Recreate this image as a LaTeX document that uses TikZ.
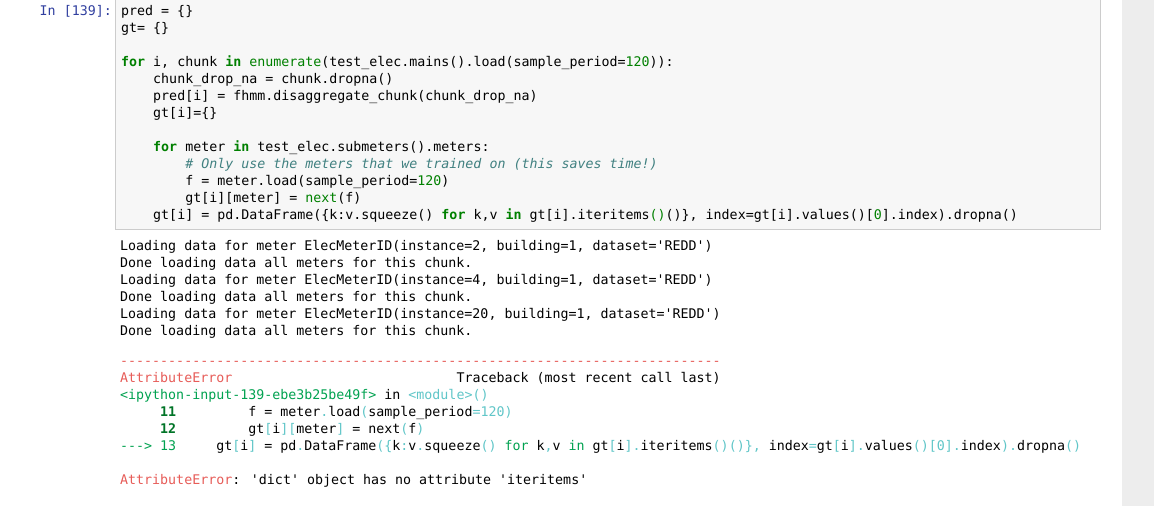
\documentclass[tikz,border=0pt]{standalone}
\usepackage{fontspec}
\newfontfamily\mono{DejaVu Sans Mono}
\definecolor{kwg}{HTML}{008000}
\definecolor{cmt}{HTML}{408080}
\definecolor{ered}{HTML}{E75C58}
\definecolor{tgreen}{HTML}{00A250}
\definecolor{tcyan}{HTML}{60C6C8}
\definecolor{tdark}{HTML}{007427}
\definecolor{prompt}{HTML}{303F9F}
\newcommand{\kw}[1]{\textcolor{kwg}{\bfseries #1}}
\newcommand{\bi}[1]{\textcolor{kwg}{#1}}
\newcommand{\cm}[1]{\textcolor{cmt}{\itshape #1}}
\newcommand{\er}[1]{\textcolor{ered}{#1}}
\newcommand{\tg}[1]{\textcolor{tgreen}{#1}}
\newcommand{\tc}[1]{\textcolor{tcyan}{#1}}
\newcommand{\td}[1]{\textcolor{tdark}{\bfseries #1}}
\begin{document}
\begin{tikzpicture}[x=1pt,y=-1pt,
  ln/.style={anchor=base west,inner sep=0pt,font=\mono\fontsize{13.3}{17}\selectfont,text=black}]
\useasboundingbox (0,0) rectangle (1154,506);
\fill[white] (0,0) rectangle (1154,506);
\fill[black!7] (1122,0) rectangle (1154,506);
\draw[fill=black!3,draw=black!20] (115.5,-2) rectangle (1100.5,229.5);
\node[ln,anchor=base east,text=prompt] (pr) at (112,15) {In [139]:};
\node[ln] (c1) at (121,15) {pred = \{\}};
\node[ln] (c2) at (121,32) {gt= \{\}};
\node[ln] (c3) at (121,66) {\kw{for} i, chunk \kw{in} \bi{enumerate}(test\_elec.mains().load(sample\_period=\bi{120})):};
\node[ln] (c4) at (121,83) {\hphantom{xxxx}chunk\_drop\_na = chunk.dropna()};
\node[ln] (c5) at (121,100) {\hphantom{xxxx}pred[i] = fhmm.disaggregate\_chunk(chunk\_drop\_na)};
\node[ln] (c6) at (121,117) {\hphantom{xxxx}gt[i]=\{\}};
\node[ln] (c7) at (121,151) {\hphantom{xxxx}\kw{for} meter \kw{in} test\_elec.submeters().meters:};
\node[ln] (c8) at (121,168) {\hphantom{xxxxxxxx}\cm{\# Only use the meters that we trained on (this saves time!)}};
\node[ln] (c9) at (121,185) {\hphantom{xxxxxxxx}f = meter.load(sample\_period=\bi{120})};
\node[ln] (c10) at (121,202) {\hphantom{xxxxxxxx}gt[i][meter] = \bi{next}(f)};
\node[ln] (c11) at (121,219) {\hphantom{xxxx}gt[i] = pd.DataFrame(\{k:v.squeeze() \kw{for} k,v \kw{in} gt[i].iteritems\bi{()}()\}, index=gt[i].values()[\bi{0}].index).dropna()};
\node[ln] (o1) at (120,250) {Loading data for meter ElecMeterID(instance=2, building=1, dataset='REDD')};
\node[ln] (o2) at (120,267) {Done loading data all meters for this chunk.};
\node[ln] (o3) at (120,284) {Loading data for meter ElecMeterID(instance=4, building=1, dataset='REDD')};
\node[ln] (o4) at (120,301) {Done loading data all meters for this chunk.};
\node[ln] (o5) at (120,318) {Loading data for meter ElecMeterID(instance=20, building=1, dataset='REDD')};
\node[ln] (o6) at (120,335) {Done loading data all meters for this chunk.};
\node[ln] (t0) at (120,365) {\er{---------------------------------------------------------------------------}};
\node[ln] (t1) at (120,382) {\er{AttributeError}\hphantom{xxxxxxxxxxxxxxxxxxxxxxxxxxxx}Traceback (most recent call last)};
\node[ln] (t2) at (120,399) {\tg{<ipython-input-139-ebe3b25be49f>} in \tc{<module>()}};
\node[ln] (t3) at (120,416) {\hphantom{xxxxx}\td{11}\hphantom{xxxxxxxxx}f = meter\tc{.}load\tc{(}sample\_period\tc{=120)}};
\node[ln] (t4) at (120,433) {\hphantom{xxxxx}\td{12}\hphantom{xxxxxxxxx}gt\tc{[}i\tc{]}\tc{[}meter\tc{]} = next\tc{(}f\tc{)}};
\node[ln] (t5) at (120,450) {\tg{---> 13}\hphantom{xxxxx}gt\tc{[}i\tc{]} = pd\tc{.}DataFrame\tc{(\{}k\tc{:}v\tc{.}squeeze\tc{()} \tg{for} k\tc{,}v \tg{in} gt\tc{[}i\tc{]}\tc{.}iteritems\tc{()()\}}\tc{,} index\tc{=}gt\tc{[}i\tc{]}\tc{.}values\tc{()[0]}\tc{.}index\tc{)}\tc{.}dropna\tc{()}};
\node[ln] (t6) at (120,484) {\er{AttributeError}: 'dict' object has no attribute 'iteritems'};
\end{tikzpicture}
\end{document}
